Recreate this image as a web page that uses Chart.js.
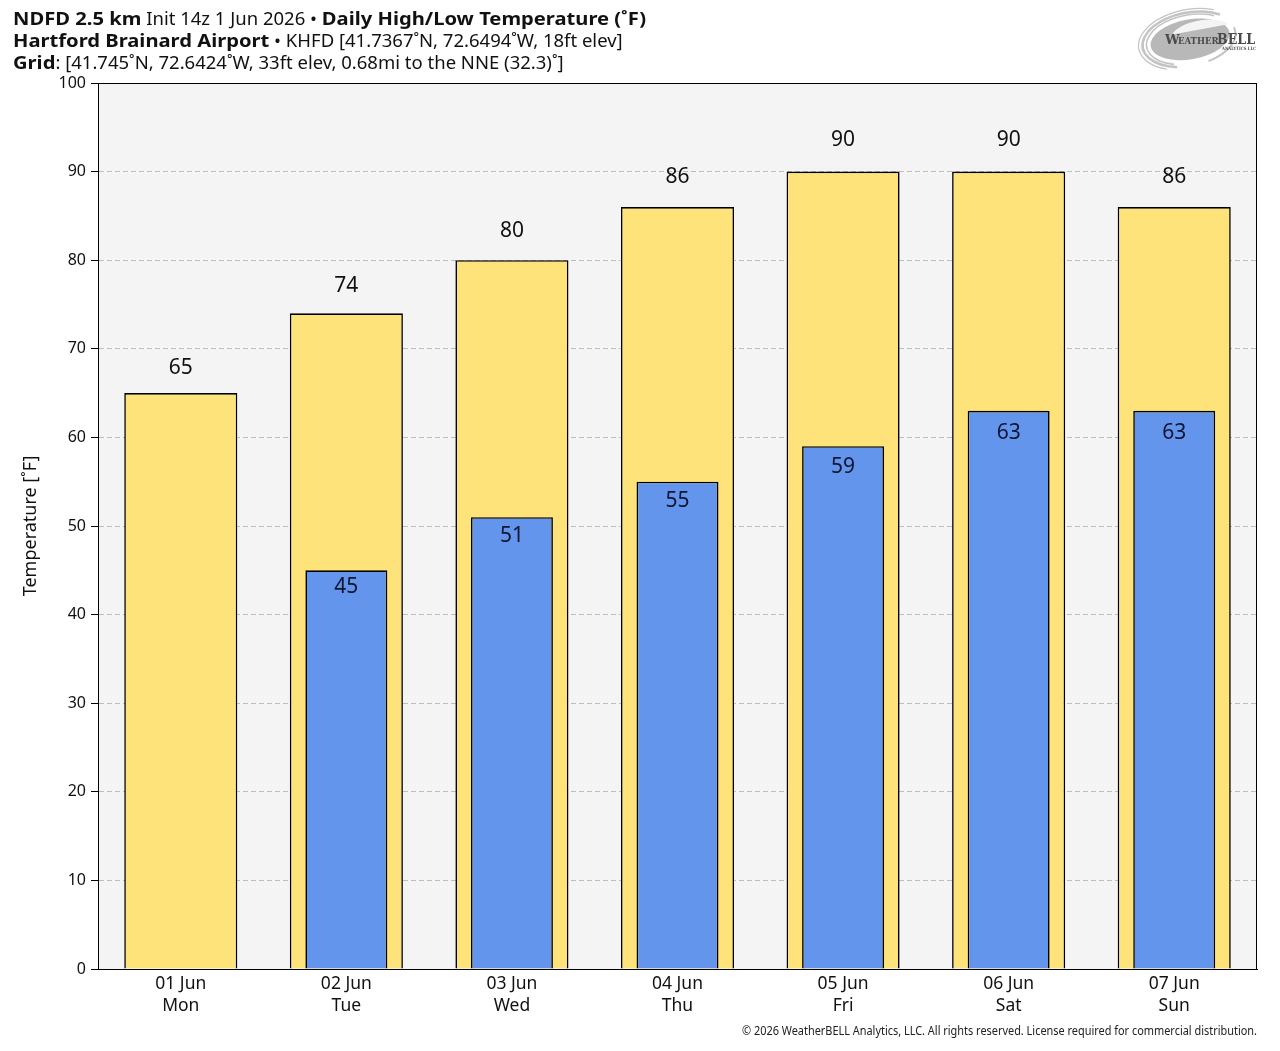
<!DOCTYPE html>
<html><head><meta charset="utf-8">
<script src="https://cdn.jsdelivr.net/npm/chart.js@4.4.1/dist/chart.umd.min.js"></script>
<style>html,body{margin:0;padding:0;background:#fff}#wrap{width:1280px;height:1051px}</style>
</head><body><div id="wrap"><canvas id="c" width="1280" height="1051"></canvas></div>
<script>
const dates = ["01 Jun","02 Jun","03 Jun","04 Jun","05 Jun","06 Jun","07 Jun"];
const weekdays = ["Mon","Tue","Wed","Thu","Fri","Sat","Sun"];
const highTemps = [65,74,80,86,90,90,86];
const lowTemps = [null,45,51,55,59,63,63];
const yTicks = [0,10,20,30,40,50,60,70,80,90,100];
const titleLines = [
  [["NDFD 2.5 km",true],[" Init 14z 1 Jun 2026 ",false],["\u2022 ",false],["Daily High/Low Temperature (\u02DAF)",true]],
  [["Hartford Brainard Airport",true],[" \u2022 ",false],["KHFD [41.7367\u02DAN, 72.6494\u02DAW, 18ft elev]",false]],
  [["Grid",true],[": [41.745\u02DAN, 72.6424\u02DAW, 33ft elev, 0.68mi to the NNE (32.3)\u02DA]",false]]
];
const footerText = "\u00A9 2026 WeatherBELL Analytics, LLC. All rights reserved. License required for commercial distribution.";
const FONT = "'Noto Sans', 'Open Sans', sans-serif";

const labels = dates.map((d,i)=>[d, weekdays[i]]);

const decor = {
  id:'decor',
  beforeDraw(chart){
    const {ctx, chartArea:a} = chart;
    ctx.save();
    ctx.fillStyle = '#f4f4f4';
    ctx.fillRect(a.left, a.top, a.right-a.left, a.bottom-a.top);
    ctx.restore();
  },
  afterDraw(chart){
    const {ctx, chartArea:a} = chart;
    ctx.save();
    ctx.strokeStyle = '#000'; ctx.lineWidth = 1;
    ctx.strokeRect(Math.round(a.left)+0.5, Math.round(a.top)+0.5, Math.round(a.right-a.left)-1, Math.round(a.bottom-a.top));
    // title
    ctx.fillStyle = '#111'; ctx.textBaseline = 'middle';
    titleLines.forEach((line, li)=>{
      let x = 13; const y = 20 + li*22;
      line.forEach(([t,b])=>{
        ctx.font = (b?'bold ':'') + '18.5px ' + FONT;
        const w = ctx.measureText(t).width;
        if (b) {
          ctx.save(); ctx.translate(x, y); ctx.scale(1.09, 1);
          ctx.fillText(t, 0, 0); ctx.restore();
          x += w*1.09;
        } else {
          ctx.fillText(t, x, y);
          x += w;
        }
      });
    });
    // footer
    ctx.font = '12px ' + FONT; ctx.textAlign = 'right'; ctx.fillStyle='#222';
    ctx.fillText(footerText, 1257, 1032, 515);
    // logo
    ctx.save();
    ctx.translate(1192, 39);
    ctx.rotate(-0.18);
    ctx.fillStyle = '#b8b8b8';
    ctx.beginPath(); ctx.ellipse(-2,0,40,20,0,0,Math.PI*2); ctx.fill();
    ctx.fillStyle = '#f4f4f4';
    ctx.beginPath(); ctx.ellipse(10,-4,30,13,0,Math.PI*1.1,Math.PI*1.9); ctx.fill();
    ctx.strokeStyle = '#c4c4c4';
    [[48,27,2.5],[44,24.5,1.6],[52,30,1.2]].forEach(([rx,ry,lw],k)=>{
      ctx.lineWidth = lw;
      ctx.beginPath();
      ctx.ellipse(-2,0,rx,ry,0,Math.PI*0.62 + k*0.1,Math.PI*1.75 - k*0.1);
      ctx.stroke();
    });
    ctx.beginPath(); ctx.lineWidth=2;
    ctx.ellipse(-2,0,46,26,0,Math.PI*1.95,Math.PI*2.4); ctx.stroke();
    ctx.restore();
    ctx.fillStyle = '#4a4a4a'; ctx.textAlign='left'; ctx.textBaseline='alphabetic';
    ctx.font = 'bold 13px "DejaVu Serif", serif';
    ctx.fillText('W', 1165, 44);
    ctx.font = 'bold 8.5px "DejaVu Serif", serif';
    ctx.fillText('EATHER', 1178, 44);
    ctx.font = 'bold 14px "DejaVu Serif", serif';
    ctx.fillText('BELL', 1217, 44, 38);
    ctx.font = 'bold 4.5px "DejaVu Serif", serif';
    ctx.fillText('ANALYTICS LLC', 1222, 50, 34);
    ctx.restore();
  },
  afterDatasetsDraw(chart){
    const {ctx} = chart;
    const ys = chart.scales.y;
    ctx.save();
    ctx.textAlign = 'center'; ctx.textBaseline = 'middle';
    ctx.font = '21px ' + FONT;
    chart.data.datasets.forEach((ds, di)=>{
      const meta = chart.getDatasetMeta(di);
      meta.data.forEach((bar, i)=>{
        const v = ds.data[i];
        if (v === null || v === undefined) return;
        if (ds.isHigh) { ctx.fillStyle = '#111'; ctx.fillText(String(v), bar.x, ys.getPixelForValue(v*1.028 + 1)); }
        else { ctx.fillStyle = '#0d1530'; ctx.fillText(String(v), bar.x, ys.getPixelForValue(v*0.967 - 0.4)); }
      });
    });
    ctx.restore();
  }
};

new Chart(document.getElementById('c'), {
  type:'bar',
  data:{
    labels: labels,
    datasets:[
      {label:'Low', data: lowTemps, backgroundColor:'#6495ed', borderColor:'#000', borderWidth:1.6, grouped:false, barPercentage:0.495, categoryPercentage:1, order:0},
      {label:'High', isHigh:true, data: highTemps, backgroundColor:'#fee37b', borderColor:'#000', borderWidth:1.6, grouped:false, barPercentage:0.683, categoryPercentage:1, order:1}
    ]
  },
  options:{
    responsive:false, animation:false, devicePixelRatio:1,
    layout:{padding:{top:83, right:23, bottom:0, left:0}},
    plugins:{legend:{display:false}, tooltip:{enabled:false}, title:{display:false}},
    scales:{
      x:{
        grid:{display:false, drawTicks:false},
        border:{display:true, color:'#000', width:1},
        ticks:{font:{size:17.5, family:FONT, lineHeight:1.257}, color:'#111', padding:4, maxRotation:0, autoSkip:false},
        afterFit(s){ s.height = 82; }
      },
      y:{
        min:0, max:100,
        afterBuildTicks(s){ s.ticks = yTicks.map(v=>({value:v})); },
        grid:{color:'#bdbdbd', tickBorderDash:[], tickColor:'#000', tickLength:7, drawOnChartArea:true},
        border:{display:true, color:'#000', width:1, dash:[5,3]},
        ticks:{font:{size:16, family:FONT}, color:'#111', padding:5},
        title:{display:true, text:'Temperature [\u02DAF]', font:{size:18, family:FONT}, color:'#111', padding:{top:20, bottom:0}},
        afterFit(s){ s.width = 98; }
      }
    }
  },
  plugins:[decor]
});
</script></body></html>
